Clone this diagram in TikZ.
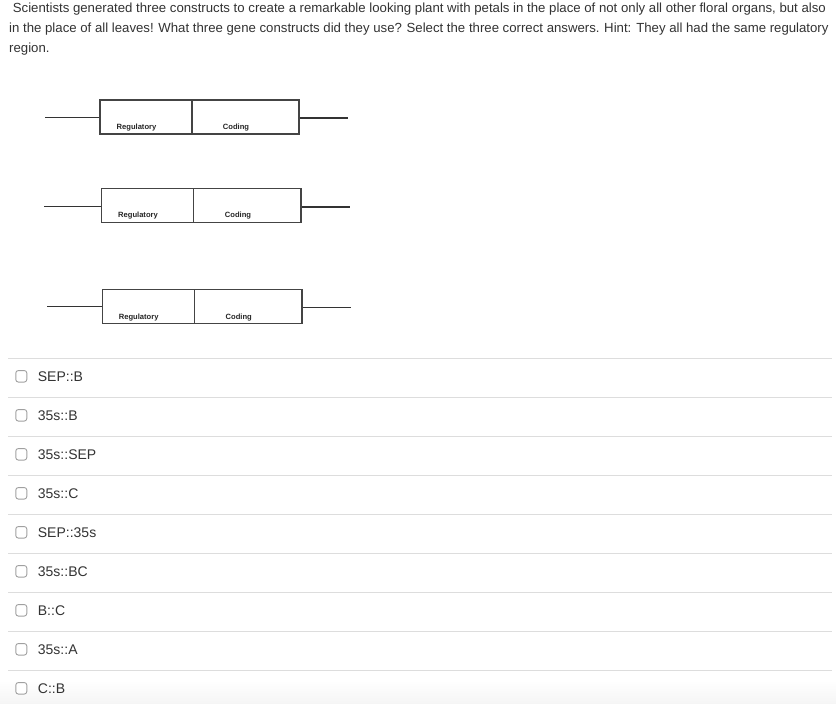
\documentclass[tikz,border=0pt]{standalone}
\usepackage{fontspec}
\setmainfont{Liberation Sans}
\usetikzlibrary{positioning}
\definecolor{txt}{HTML}{333333}
\definecolor{boxline}{HTML}{444444}
\definecolor{sepline}{HTML}{DDDDDD}
\definecolor{cbline}{HTML}{A0A0A0}
\newcommand{\dsp}{\ \hspace{1pt}}
\tikzset{
  para/.style={anchor=base west, inner sep=0pt, text=txt, font=\fontsize{13.2}{15}\selectfont},
  segbox/.style={draw=boxline, line width=1.5pt, rectangle, inner sep=0pt, minimum height=34pt},
  seglabel/.style={anchor=mid, inner sep=0pt, text=black!85, font=\bfseries\fontsize{7.6}{9}\selectfont},
  dnaline/.style={draw=black!80, line width=1.1pt},
  sep/.style={draw=sepline, line width=1pt},
  cbox/.style={draw=cbline, line width=0.9pt, rounded corners=2.5pt, fill=white},
  optlabel/.style={anchor=base west, inner sep=0pt, text=txt, font=\fontsize{14}{16}\selectfont}
}
\begin{document}
\begin{tikzpicture}[x=1pt, y=-1pt]
\useasboundingbox (0,0) rectangle (836,704);
\fill[white] (0,0) rectangle (836,704);
\shade[top color=white, bottom color=black!4] (0,680) rectangle (836,704);

% question text
\node[para] (q1) at (12.7,12.5) {Scientists generated three constructs to create a remarkable looking plant with petals in the place of not only all other floral organs, but also};
\node[para] (q2) at (9,32.5) {in the place of all leaves!\dsp What three gene constructs did they use?\dsp Select the three correct answers.\dsp Hint: They all had the same regulatory};
\node[para] (q3) at (9,52) {region.};

% construct 1
\node[segbox, minimum width=92pt] (reg1) at (146,117) {};
\node[segbox, minimum width=107pt] (cod1) at (245.5,117) {};
\coordinate (l1) at (45,117.3);
\coordinate (r1) at (348,118);
\draw[dnaline] (l1) -- (reg1.west |- l1);
\draw[dnaline] (cod1.east |- r1) -- (r1);
\node[seglabel] (rt1) at (136.5,126.5) {Regulatory};
\node[seglabel] (ct1) at (236,126.5) {Coding};

% construct 2
\node[segbox, minimum width=92pt] (reg2) at (147.7,205.3) {};
\node[segbox, minimum width=107.3pt] (cod2) at (247.35,205.3) {};
\coordinate (l2) at (44,206.5);
\coordinate (r2) at (350,207);
\draw[dnaline] (l2) -- (reg2.west |- l2);
\draw[dnaline] (cod2.east |- r2) -- (r2);
\node[seglabel] (rt2) at (138,214.5) {Regulatory};
\node[seglabel] (ct2) at (238,214.5) {Coding};

% construct 3
\node[segbox, minimum width=92pt] (reg3) at (148.3,306.3) {};
\node[segbox, minimum width=107.7pt] (cod3) at (248.15,306.3) {};
\coordinate (l3) at (47.3,306.3);
\coordinate (r3) at (350.7,307.3);
\draw[dnaline] (l3) -- (reg3.west |- l3);
\draw[dnaline] (cod3.east |- r3) -- (r3);
\node[seglabel] (rt3) at (138.7,316.7) {Regulatory};
\node[seglabel] (ct3) at (238.8,316.7) {Coding};

% answer options
\foreach \i/\lab in {0/SEP::B, 1/35s::B, 2/35s::SEP, 3/35s::C, 4/SEP::35s, 5/35s::BC, 6/B::C, 7/35s::A, 8/C::B} {
  \pgfmathsetmacro{\ys}{358.3+39*\i}
  \pgfmathsetmacro{\yc}{376.3+39*\i}
  \pgfmathsetmacro{\yb}{381.3+39*\i}
  \coordinate (sl\i) at (8,\ys);
  \coordinate (sr\i) at (831.7,\ys);
  \draw[sep] (sl\i) -- (sr\i);
  \node[cbox, minimum width=11pt, minimum height=11.5pt, inner sep=0pt] (cb\i) at (21.3,\yc) {};
  \node[optlabel] (opt\i) at (37.7,\yb) {\lab};
}
\end{tikzpicture}
\end{document}
